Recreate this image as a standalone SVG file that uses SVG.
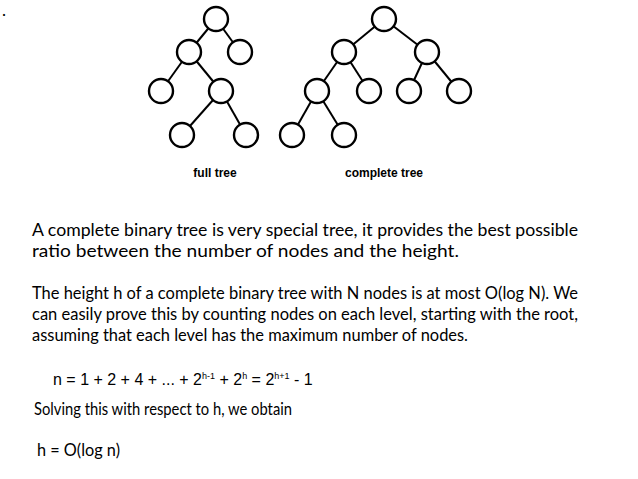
<svg xmlns="http://www.w3.org/2000/svg" width="638" height="479" viewBox="0 0 638 479">
<style>
.n{fill:#fff;stroke:#000;stroke-width:2.4}
.e{stroke:#000;stroke-width:2}
.lb{font-family:"Liberation Sans",Arial,sans-serif;font-weight:bold;font-size:12px;text-anchor:middle}
.t{font-family:Lato,"Liberation Sans",sans-serif;font-size:17px}
.f{font-family:"Liberation Sans",Arial,sans-serif;font-size:16px}
.s{font-size:9px}
</style>
<rect width="638" height="479" fill="#fff"/>
<text x="2" y="16" class="t" font-size="10">.</text>
<g id="edges">
<line class="e" x1="216" y1="19" x2="189" y2="52"/><line class="e" x1="216" y1="19" x2="240" y2="52"/>
<line class="e" x1="189" y1="52" x2="161" y2="91"/><line class="e" x1="189" y1="52" x2="221" y2="91"/>
<line class="e" x1="221" y1="91" x2="182" y2="135"/><line class="e" x1="221" y1="91" x2="246" y2="135"/>
<line class="e" x1="384" y1="19" x2="344" y2="52"/><line class="e" x1="384" y1="19" x2="427" y2="52"/>
<line class="e" x1="344" y1="52" x2="317" y2="91"/><line class="e" x1="344" y1="52" x2="369" y2="91"/>
<line class="e" x1="427" y1="52" x2="409" y2="91"/><line class="e" x1="427" y1="52" x2="459" y2="91"/>
<line class="e" x1="317" y1="91" x2="292" y2="135"/><line class="e" x1="317" y1="91" x2="344" y2="135"/>
</g>
<g id="full">
<circle class="n" cx="216" cy="19" r="12"/><circle class="n" cx="189" cy="52" r="12"/><circle class="n" cx="240" cy="52" r="12"/>
<circle class="n" cx="161" cy="91" r="12"/><circle class="n" cx="221" cy="91" r="12"/>
<circle class="n" cx="182" cy="135" r="12"/><circle class="n" cx="246" cy="135" r="12"/>
</g>
<g id="complete">
<circle class="n" cx="384" cy="19" r="12"/><circle class="n" cx="344" cy="52" r="12"/><circle class="n" cx="427" cy="52" r="12"/>
<circle class="n" cx="317" cy="91" r="12"/><circle class="n" cx="369" cy="91" r="12"/><circle class="n" cx="409" cy="91" r="12"/><circle class="n" cx="459" cy="91" r="12"/>
<circle class="n" cx="292" cy="135" r="12"/><circle class="n" cx="344" cy="135" r="12"/>
</g>
<text class="lb" x="215" y="177">full tree</text>
<text class="lb" x="384" y="177">complete tree</text>
<text class="t" x="32" y="236" textLength="546" lengthAdjust="spacingAndGlyphs">A complete binary tree is very special tree, it provides the best possible</text>
<text class="t" x="32" y="257" textLength="427" lengthAdjust="spacingAndGlyphs">ratio between the number of nodes and the height.</text>
<text class="t" x="32" y="299" textLength="546" lengthAdjust="spacingAndGlyphs">The height h of a complete binary tree with N nodes is at most O(log N). We</text>
<text class="t" x="32" y="320" textLength="546" lengthAdjust="spacingAndGlyphs">can easily prove this by counting nodes on each level, starting with the root,</text>
<text class="t" x="32" y="341" textLength="436" lengthAdjust="spacingAndGlyphs">assuming that each level has the maximum number of nodes.</text>
<text class="f" x="53" y="385">n = 1 + 2 + 4 + ... + 2<tspan class="s" dy="-6">h-1</tspan><tspan dy="6"> + 2</tspan><tspan class="s" dy="-6">h</tspan><tspan dy="6"> = 2</tspan><tspan class="s" dy="-6">h+1</tspan><tspan dy="6"> - 1</tspan></text>
<text class="t" x="34" y="415" font-size="14" textLength="258" lengthAdjust="spacingAndGlyphs">Solving this with respect to h, we obtain</text>
<text class="t" x="37" y="456" font-size="18" textLength="83" lengthAdjust="spacingAndGlyphs">h = O(log n)</text>
</svg>
